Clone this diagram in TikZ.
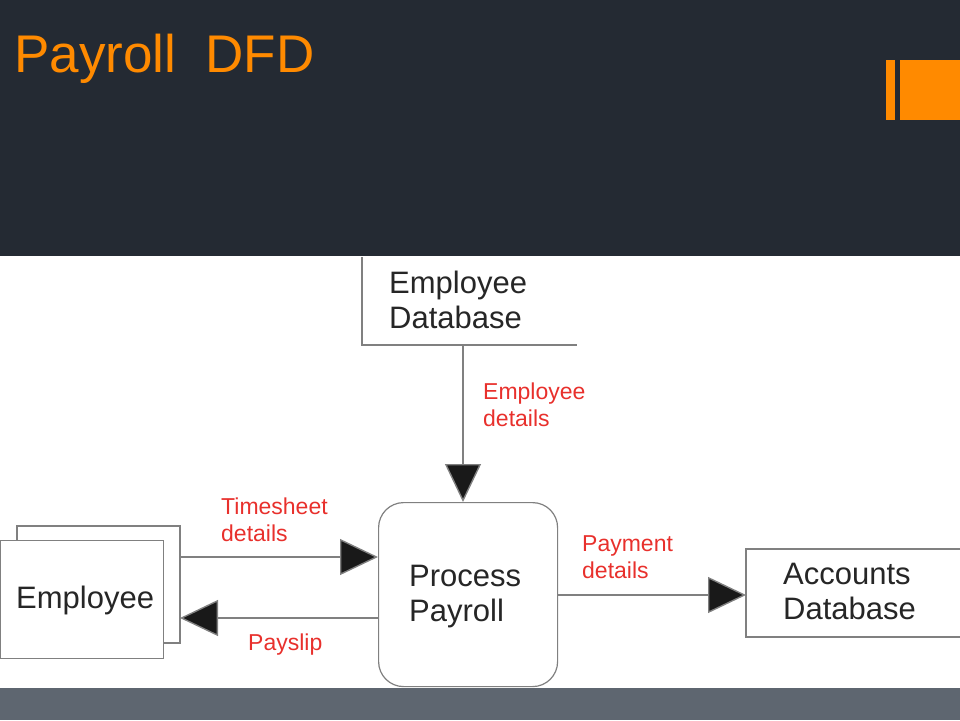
\documentclass[tikz,border=0pt]{standalone}
\usepackage{fontspec}
\setmainfont{Liberation Sans}
\usetikzlibrary{arrows.meta}
\definecolor{dark}{HTML}{242A33}
\definecolor{band}{HTML}{5E6670}
\definecolor{org}{HTML}{FF8A00}
\definecolor{lbl}{HTML}{E8302C}
\definecolor{ln}{HTML}{808080}
\begin{document}
\begin{tikzpicture}[x=1pt,y=-1pt,
  box/.style={draw=ln,line width=1.2pt,fill=white},
  big/.style={font=\fontsize{31}{35}\selectfont,align=left,anchor=north west,inner sep=0pt,text=black!85},
  lab/.style={font=\fontsize{23}{27}\selectfont,align=left,anchor=north west,inner sep=0pt,text=lbl},
  flow/.style={draw=ln,line width=1.4pt,-{Triangle[length=38pt,width=36pt,fill=black!90]}}]
\useasboundingbox (0,0) rectangle (960,720);
\fill[dark] (0,0) rectangle (960,256);
\fill[band] (0,688) rectangle (960,720);
\node[anchor=base west,inner sep=0pt,text=org,font=\fontsize{53}{58}\selectfont] (title) at (14,72) {Payroll\ \ DFD};
\fill[org] (886,60) rectangle (895,120);
\fill[org] (900,60) rectangle (960,120);
% Employee database
\draw[ln,line width=1.2pt] (362,257) -- (362,345) -- (577,345);
\node[big] (edb) at (389,271) {Employee\\Database};
\coordinate (edbb) at (463,345);
% Process
\node[box,rounded corners=25pt,minimum width=179pt,minimum height=184pt,anchor=north west] (proc) at (378,502) {};
\node[big] (proct) at (409,565) {Process\\Payroll};
% Employee
\draw[box] (17,526) rectangle (180,643);
\node[box,minimum width=163pt,minimum height=118pt,anchor=north west,inner sep=0pt] (emp) at (0,540) {};
\node[big] (empt) at (16,586) {Employee};
% Accounts
\draw[ln,line width=1.2pt] (960,549) -- (746,549) -- (746,637) -- (960,637);
\coordinate (acc) at (746,595);
\node[big] (acct) at (783,563) {Accounts\\Database};
% flows
\draw[flow] (edbb) -- (edbb |- proc.north);
\node[lab] (l1) at (483,383) {Employee\\details};
\draw[flow] (180,557) -- (proc.west |- 0,557);
\node[lab] (l2) at (221,498) {Timesheet\\details};
\draw[flow] (proc.west |- 0,618) -- (180,618);
\node[lab] (l3) at (248,634) {Payslip};
\draw[flow] (proc.east |- 0,595) -- (acc);
\node[lab] (l4) at (582,535) {Payment\\details};
\end{tikzpicture}
\end{document}
